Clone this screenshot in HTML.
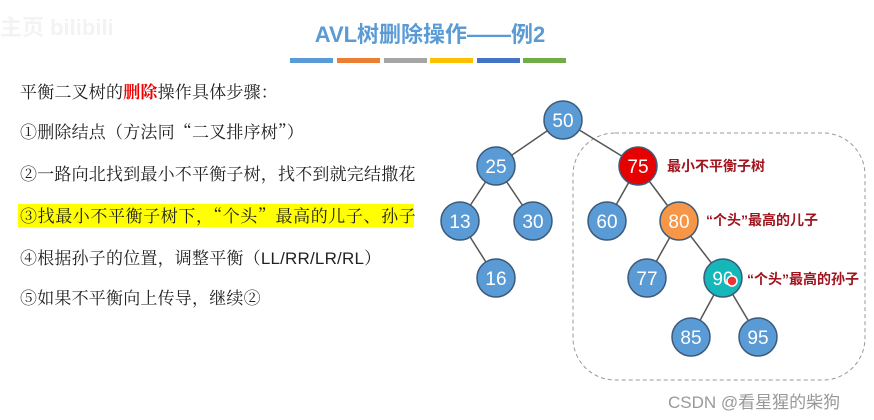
<!DOCTYPE html>
<html><head><meta charset="utf-8"><style>
body{margin:0;width:874px;height:420px;background:#fff;position:relative;overflow:hidden;font-family:"Liberation Sans","Noto Sans CJK SC",sans-serif}
.t{position:absolute;left:20px;font-family:"Noto Serif CJK SC",serif;font-size:17px;color:#222;white-space:nowrap;line-height:22px;letter-spacing:0.2px}
.t .l{font-family:"Liberation Sans",sans-serif}
.bar{position:absolute;top:58px;height:5px;width:43px}
</style></head><body>
<div style="position:absolute;left:0;top:10px;color:#f3f3f3;font-size:22px;font-weight:bold">主页  bilibili</div>
<div style="position:absolute;left:300px;top:17px;width:260px;text-align:center;font-size:22px;font-weight:bold;color:#5b9bd5">AVL树删除操作——例2</div>
<div class="bar" style="left:290px;background:#5b9bd5"></div>
<div class="bar" style="left:337px;background:#ed7d31"></div>
<div class="bar" style="left:384px;background:#a5a5a5"></div>
<div class="bar" style="left:430px;background:#ffc000"></div>
<div class="bar" style="left:477px;background:#4472c4"></div>
<div class="bar" style="left:523px;background:#70ad47"></div>
<div class="t" style="top:80px">平衡二叉树的<span style="color:#e00;font-weight:bold">删除</span>操作具体步骤：</div>
<div class="t" style="top:120px">①删除结点（方法同“二叉排序树”）</div>
<div class="t" style="top:162px">②一路向北找到最小不平衡子树，找不到就完结撒花</div>
<div style="position:absolute;left:18px;top:204px;width:396px;height:23px;background:#ffff00"></div>
<div class="t" style="top:204px;letter-spacing:0.6px">③找最小不平衡子树下，“个头”最高的儿子、孙子</div>
<div class="t" style="top:246px">④根据孙子的位置，调整平衡（<span class="l">LL/RR/LR/RL</span>）</div>
<div class="t" style="top:286px">⑤如果不平衡向上传导，继续②</div>
<svg width="874" height="420" style="position:absolute;left:0;top:0">
<rect x="573" y="133" width="292" height="247" rx="42" fill="none" stroke="#999" stroke-dasharray="4,3"/>
<g stroke="#555" stroke-width="1.5">
<line x1="563" y1="120" x2="496" y2="166"/><line x1="563" y1="120" x2="638" y2="166"/>
<line x1="496" y1="166" x2="460" y2="221"/><line x1="496" y1="166" x2="533" y2="221"/>
<line x1="460" y1="221" x2="496" y2="278"/>
<line x1="638" y1="166" x2="607" y2="221"/><line x1="638" y1="166" x2="679" y2="221"/>
<line x1="679" y1="221" x2="647" y2="278"/><line x1="679" y1="221" x2="723" y2="278"/>
<line x1="723" y1="278" x2="691" y2="337"/><line x1="723" y1="278" x2="758" y2="337"/>
</g>
<g stroke="#3c5a7a" stroke-width="1.5" font-family="Liberation Sans" font-size="19" text-anchor="middle">
<circle cx="563" cy="120" r="19" fill="#5b9bd5"/><circle cx="496" cy="166" r="19" fill="#5b9bd5"/>
<circle cx="638" cy="166" r="19" fill="#e60000"/><circle cx="460" cy="221" r="19" fill="#5b9bd5"/>
<circle cx="533" cy="221" r="19" fill="#5b9bd5"/><circle cx="607" cy="221" r="19" fill="#5b9bd5"/>
<circle cx="679" cy="221" r="19" fill="#f79646"/><circle cx="496" cy="278" r="19" fill="#5b9bd5"/>
<circle cx="647" cy="278" r="19" fill="#5b9bd5"/><circle cx="723" cy="278" r="19" fill="#14b8b8"/>
<circle cx="691" cy="337" r="19" fill="#5b9bd5"/><circle cx="758" cy="337" r="19" fill="#5b9bd5"/>
<g fill="#fff" stroke="none">
<text x="563" y="127">50</text><text x="496" y="173">25</text><text x="638" y="173">75</text>
<text x="460" y="228">13</text><text x="533" y="228">30</text><text x="607" y="228">60</text>
<text x="679" y="228">80</text><text x="496" y="285">16</text><text x="647" y="285">77</text>
<text x="723" y="285">90</text><text x="691" y="344">85</text><text x="758" y="344">95</text>
</g></g>
<circle cx="732" cy="281" r="5" fill="#e33" stroke="#fff" stroke-width="1.5"/>
<g fill="#a0141e" font-size="14" font-weight="bold" font-family="Liberation Sans,Noto Sans CJK SC,sans-serif">
<text x="667" y="171">最小不平衡子树</text>
<text x="706" y="225">“个头”最高的儿子</text>
<text x="747" y="284">“个头”最高的孙子</text>
</g>
<text x="668" y="408" fill="#999" font-size="17" font-family="Liberation Sans,Noto Sans CJK SC,sans-serif">CSDN @看星猩的柴狗</text>
</svg>
</body></html>
